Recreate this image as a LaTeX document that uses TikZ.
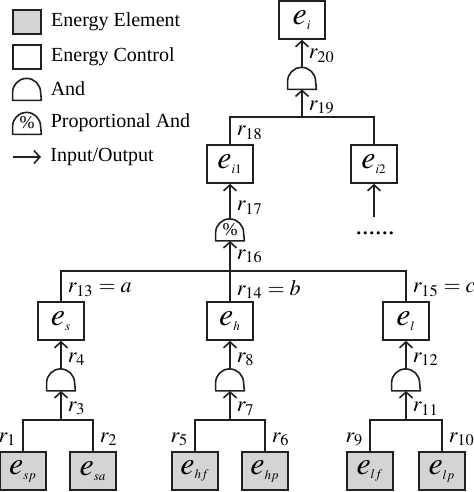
\documentclass[tikz,border=0pt]{standalone}
\usepackage{mathptmx}
\usepackage{fontspec}
\setmainfont{Liberation Serif}
\usetikzlibrary{arrows.meta,positioning}
\definecolor{elemgray}{RGB}{212,212,212}
\definecolor{lineblk}{RGB}{35,31,32}
\newcommand{\esub}[1]{$e_{\mbox{\fontsize{6.5}{6.5}\selectfont$#1$}}$}
\tikzset{
  basebox/.style={rectangle,draw=lineblk,line width=0.8pt,minimum width=23pt,minimum height=19pt,inner sep=0pt,font=\fontsize{16}{16}\selectfont},
  elemnode/.style={basebox,fill=elemgray},
  ctrlnode/.style={basebox,fill=white},
  gatenode/.style={inner sep=0pt,minimum width=14pt,minimum height=11pt,font=\fontsize{9}{9}\selectfont},
  gateline/.style={draw=lineblk,line width=0.8pt,line join=round},
  wire/.style={draw=lineblk,line width=0.8pt},
  io/.style={wire,-{Straight Barb[length=3pt,width=6.5pt]}},
  rlab/.style={font=\fontsize{11}{11}\selectfont,inner sep=3pt},
  legtext/.style={font=\fontsize{10}{10}\selectfont,inner sep=0pt}
}

\begin{document}
\begin{tikzpicture}[x=0.5pt,y=-0.5pt]
  \useasboundingbox (0,0) rectangle (474,492);

  % legend
  \node[elemnode,minimum width=14pt,minimum height=12pt] (lgelem) at (27,22) {};
  \node[ctrlnode,minimum width=14pt,minimum height=12pt] (lgctrl) at (27,57) {};
  \node[gatenode,minimum height=11.5pt] (lgand) at (27,88.5) {};
  \node[gatenode] (lgprop) at (27,123) {\%};
  \coordinate (lgioa) at (13,157); \coordinate (lgiob) at (41,157);
  \draw[io] (lgioa) -- (lgiob);
  \node[legtext,right=4.5pt of lgelem] (lgelemtxt) {Energy Element};
  \node[legtext,right=4.5pt of lgctrl] (lgctrltxt) {Energy Control};
  \node[legtext,right=4.5pt of lgand] (lgandtxt) {And};
  \node[legtext,right=4.5pt of lgprop] (lgproptxt) {Proportional And};
  \node[legtext,right=4.5pt of lgiob] (lgiotxt) {Input/Output};

  % top of the tree
  \node[ctrlnode] (ei) at (302,20) {\esub{i}};
  \node[gatenode] (g20) at (302,78) {};
  \coordinate (j19) at (302,117);
  \node[ctrlnode] (ei1) at (230,164) {\esub{i1}};
  \node[ctrlnode] (ei2) at (374,164) {\esub{i2}};
  \coordinate (ei2in) at (374,217);
  \node[font=\fontsize{13}{13}\selectfont] (dots) at (375,233) {......};
  \node[gatenode] (gp) at (230,229.5) {\%};
  \coordinate (j16) at (230,271);

  % middle level
  \node[ctrlnode] (es) at (61,321) {\esub{s}};
  \node[ctrlnode] (eh) at (230,321) {\esub{h}};
  \node[ctrlnode] (el) at (406,321) {\esub{l}};
  \node[gatenode] (g4) at (61,379.5) {};
  \node[gatenode] (g8) at (230,379.5) {};
  \node[gatenode] (g12) at (406,379.5) {};
  \coordinate (j3) at (61,420); \coordinate (j7) at (230,420); \coordinate (j11) at (406,420);

  % leaves
  \node[elemnode] (esp) at (23,471) {\esub{sp}};
  \node[elemnode] (esa) at (93,471) {\esub{sa}};
  \node[elemnode] (ehf) at (195,471) {\esub{hf}};
  \node[elemnode] (ehp) at (265,471) {\esub{hp}};
  \node[elemnode] (elf) at (370,471) {\esub{lf}};
  \node[elemnode] (elp) at (442,471) {\esub{lp}};

  % gate outlines
  \foreach \g in {lgand,lgprop,g20,gp,g4,g8,g12}
    \draw[gateline] (\g.south west) -- ++(0,4pt) arc[start angle=180,end angle=0,radius=7pt] -- (\g.south east) -- cycle;

  \draw[io] (g20.north) -- node[rlab,right,pos=0.4]{$r_{20}$} (ei.south);
  \draw[io] (j19) -- node[rlab,right,pos=0.36]{$r_{19}$} (g20.south);
  \draw[wire] (ei1.north) |- node[rlab,right,pos=0.21]{$r_{18}$} (j19) -| (ei2.north);
  \draw[io] (gp.north) -- node[rlab,right,pos=0.3]{$r_{17}$} (ei1.south);
  \draw[io] (j16) -- node[rlab,right,pos=0.48]{$r_{16}$} (gp.south);
  \draw[io] (ei2in) -- (ei2.south);

  \draw[wire] (es.north) |- node[rlab,right,pos=0.19]{$r_{13}=a$} (j16) -| node[rlab,right,pos=0.81]{$r_{15}=c$} (el.north);
  \draw[wire] (eh.north) -- node[rlab,right,pos=0.38]{$r_{14}=b$} (j16);

  \draw[io] (g4.north) -- node[rlab,right,pos=0.33]{$r_4$} (es.south);
  \draw[io] (g8.north) -- node[rlab,right,pos=0.33]{$r_8$} (eh.south);
  \draw[io] (g12.north) -- node[rlab,right,pos=0.33]{$r_{12}$} (el.south);
  \draw[io] (j3) -- node[rlab,right,pos=0.39]{$r_3$} (g4.south);
  \draw[io] (j7) -- node[rlab,right,pos=0.39]{$r_7$} (g8.south);
  \draw[io] (j11) -- node[rlab,right,pos=0.39]{$r_{11}$} (g12.south);

  \draw[wire] (esp.north) |- node[rlab,left,pos=0.19]{$r_1$} (j3) -| node[rlab,right,pos=0.81]{$r_2$} (esa.north);
  \draw[wire] (ehf.north) |- node[rlab,left,pos=0.19]{$r_5$} (j7) -| node[rlab,right,pos=0.81]{$r_6$} (ehp.north);
  \draw[wire] (elf.north) |- node[rlab,left,pos=0.19]{$r_9$} (j11) -| node[rlab,right,pos=0.81]{$r_{10}$} (elp.north);
\end{tikzpicture}
\end{document}
